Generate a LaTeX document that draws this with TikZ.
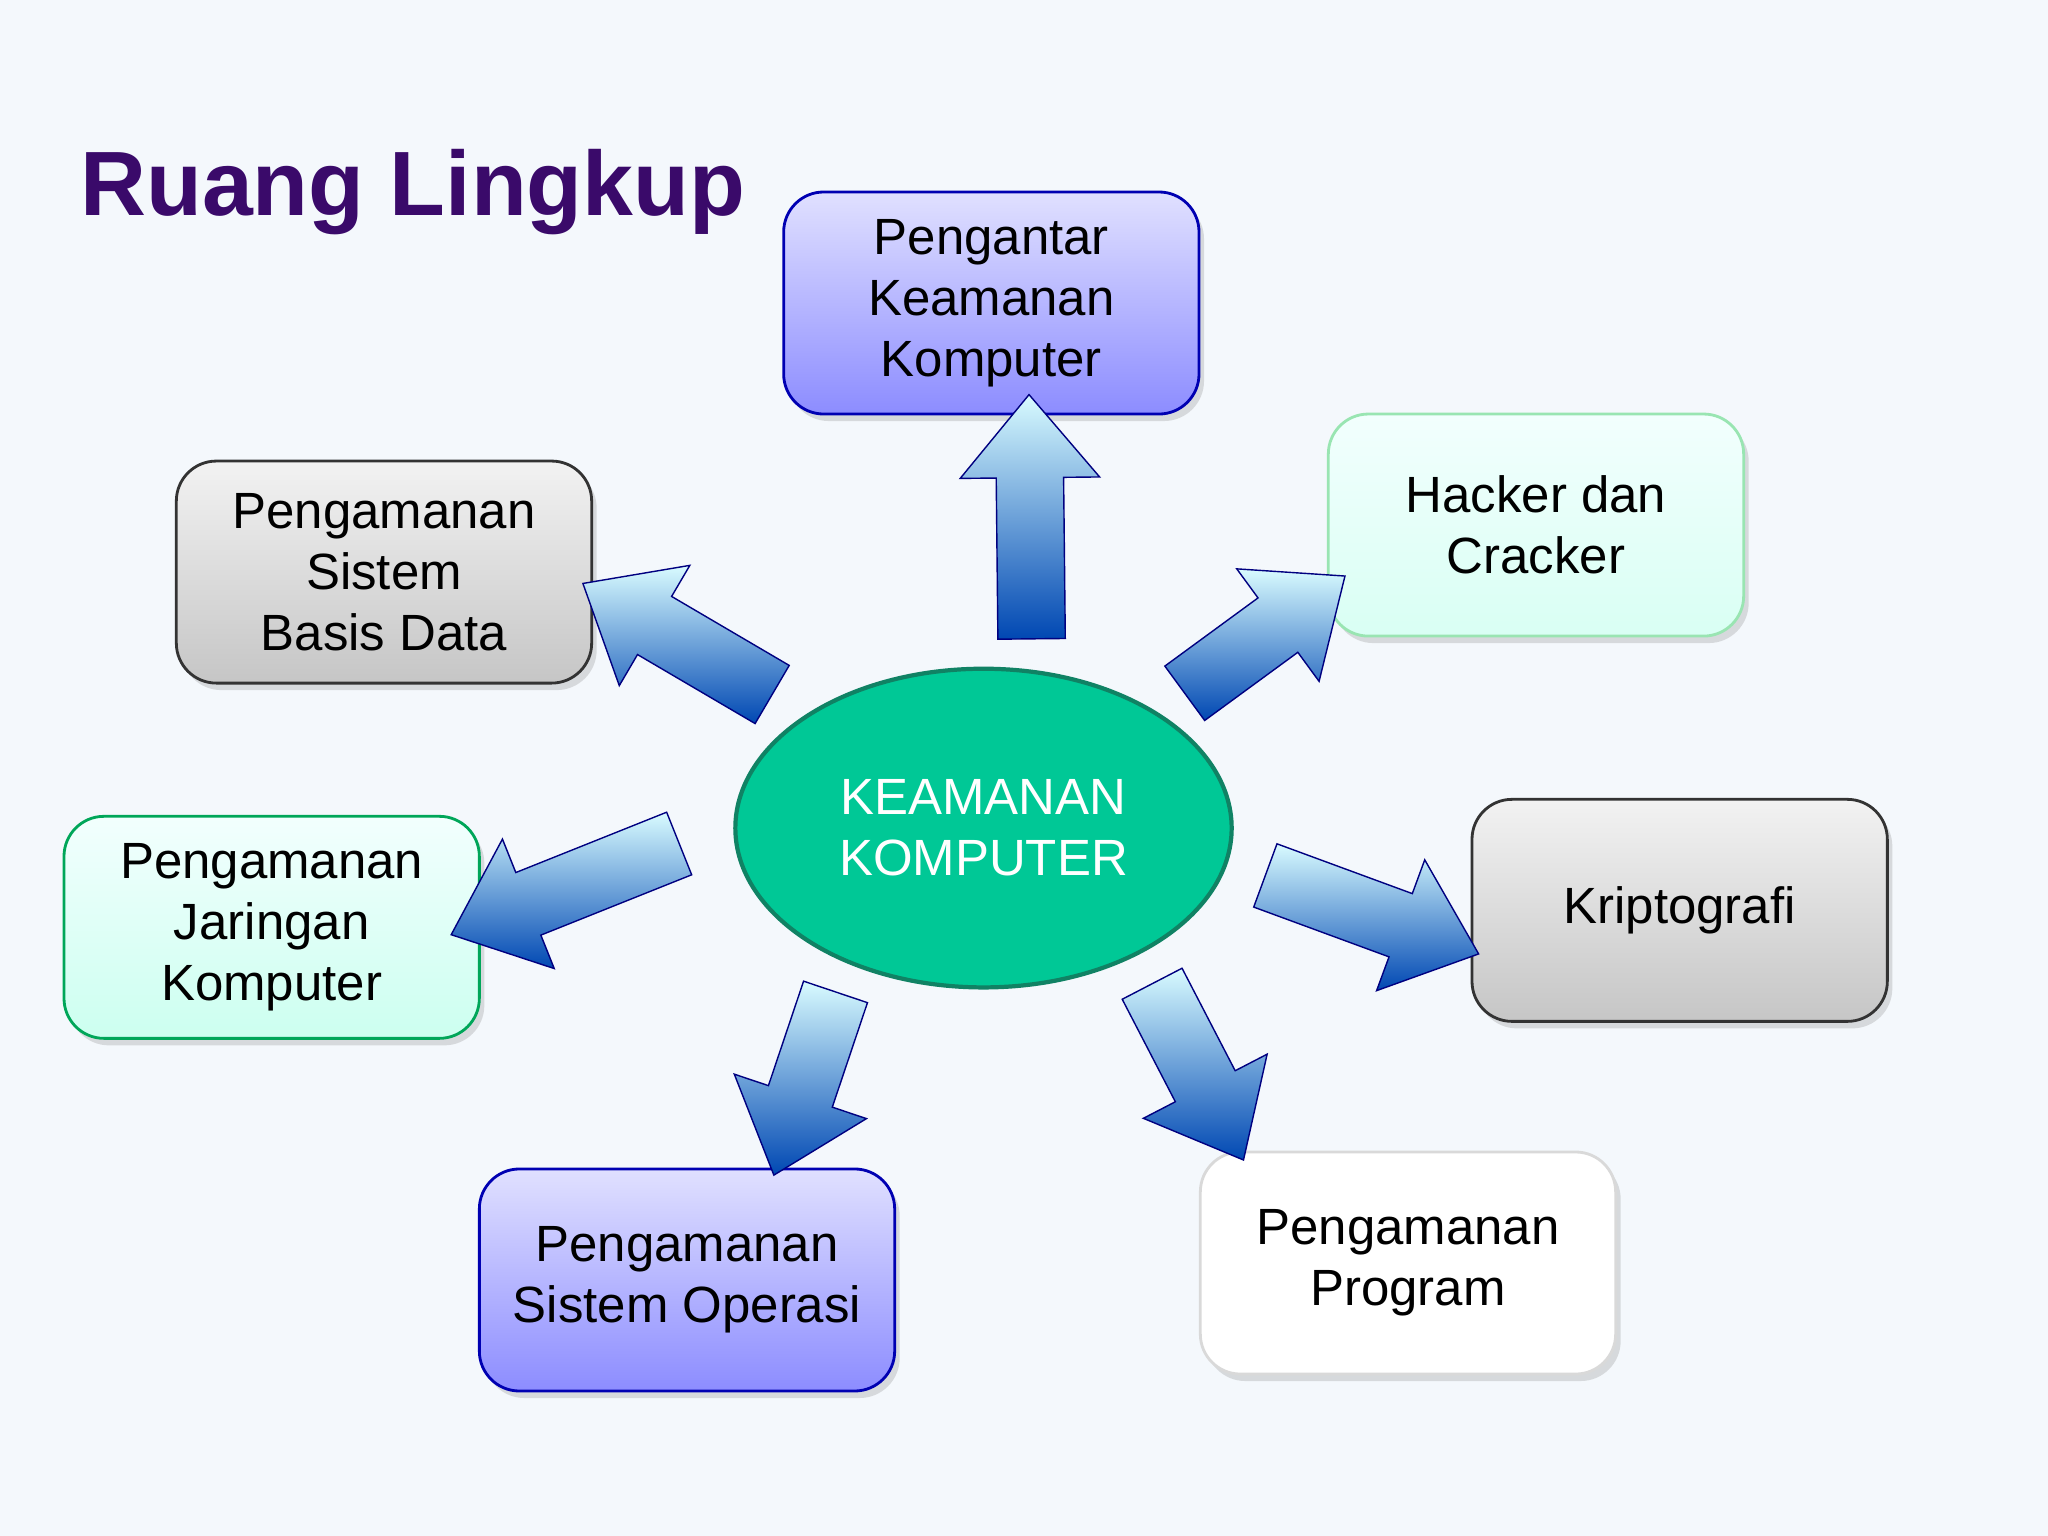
\documentclass[tikz,border=0pt]{standalone}
\usepackage{fontspec}
\setmainfont{Liberation Sans}
\usetikzlibrary{shapes.geometric,shapes.arrows,shadows}
\definecolor{bg}{HTML}{F4F8FC}
\begin{document}
\begin{tikzpicture}[x=0.01306cm,y=-0.01306cm,
  box/.style={rounded corners=0.4cm,minimum width=318*0.01306cm,minimum height=170*0.01306cm,align=center,
    font=\fontsize{14.5}{17.4}\selectfont,line width=0.8pt,drop shadow={shadow xshift=0.05cm,shadow yshift=-0.07cm,opacity=0.25}},
  purp/.style={box,draw=blue!70!black,top color=blue!12,bottom color=blue!45},
  mint/.style={box,draw=green!50!teal!40,top color=green!10!cyan!5,bottom color=green!30!cyan!15},
  mintd/.style={box,draw=teal!70!green,top color=green!10!cyan!5,bottom color=green!30!cyan!20},
  gray/.style={box,draw=black!80,top color=gray!10,bottom color=gray!45},
  white/.style={box,draw=gray!30,fill=white},
  arr/.style={single arrow,single arrow head extend=0.36cm,single arrow tip angle=80,
    inner xsep=0pt,inner ysep=0.33cm,draw=blue!50!black,line width=0.4pt,left color=blue!10!cyan!15,right color=blue!60!cyan!70!black,shading angle=0,minimum height=#1*0.01306cm}]
\fill[bg] (0,0) rectangle (1568,1176);
\node[anchor=base west,font=\fontsize{26}{30}\bfseries\selectfont,text={rgb,255:red,58;green,10;blue,106}] (title) at (52,165) {Ruang Lingkup};
\node[ellipse,minimum width=380*0.01306cm,minimum height=244*0.01306cm,draw={rgb,255:red,16;green,130;blue,100},line width=1.2pt,fill={rgb,255:red,0;green,200;blue,150},text=white,align=center,font=\fontsize{14.5}{17.4}\selectfont] (k) at (753,634) {KEAMANAN\\KOMPUTER};
\node[purp] (a) at (759,232) {Pengantar\\Keamanan\\Komputer};
\node[mint] (b) at (1176,402) {Hacker dan\\Cracker};
\node[gray] (c) at (294,438) {Pengamanan\\Sistem\\Basis Data};
\node[mintd] (d) at (208,710) {Pengamanan\\Jaringan\\Komputer};
\node[gray] (e) at (1286,697) {Kriptografi};
\node[purp] (f) at (526,980) {Pengamanan\\Sistem Operasi};
\node[white] (g) at (1078,967) {Pengamanan\\Program};
\node[arr=187,rotate=90.6] (a1) at (789,411) {};
\node[arr=152,rotate=36.2] (a2) at (956,495) {};
\node[arr=168,rotate=149.6] (a3) at (532,497) {};
\node[arr=188,rotate=201.8] (a4) at (447,675) {};
\node[arr=174,rotate=-20.2] (a5) at (1036,695) {};
\node[arr=152,rotate=-62.6] (a6) at (910,807) {};
\node[arr=148,rotate=-108.6] (a7) at (621,815) {};
\end{tikzpicture}
\end{document}
